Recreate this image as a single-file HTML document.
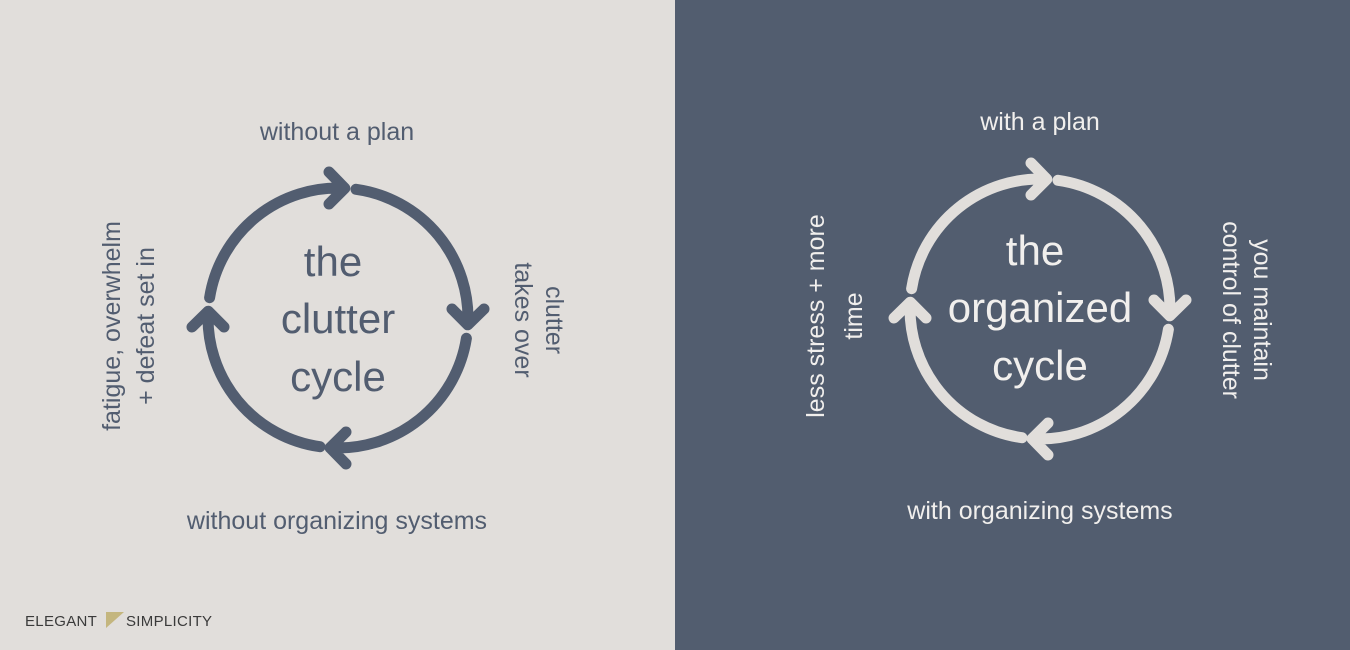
<!DOCTYPE html>
<html><head><meta charset="utf-8">
<style>
html,body{margin:0;padding:0;}
body{width:1350px;height:650px;overflow:hidden;position:relative;font-family:"Liberation Sans",sans-serif;}
</style></head>
<body>
<svg width="1350" height="650" viewBox="0 0 1350 650" xmlns="http://www.w3.org/2000/svg" style="position:absolute;left:0;top:0">
<rect x="0" y="0" width="675" height="650" fill="#e1dedb"/>
<rect x="675" y="0" width="675" height="650" fill="#525d6f"/>
<defs>
<g id="cyc" fill="none" stroke-width="11" stroke-linecap="round" stroke-linejoin="round">
<path d="M-128.4,-20.3 A130,130 0 0 1 6.8,-129.8 M-9,-146 L6.8,-129.8 L-9,-114"/>
<path d="M18,-128.7 A130,130 0 0 1 129.8,6.8 M114,-9 L129.8,6.8 L146,-9"/>
<path d="M128.4,20.3 A130,130 0 0 1 -7.9,129.8 M8,114 L-7.9,129.8 L8,146"/>
<path d="M-18,128.7 A130,130 0 0 1 -129.8,-6.8 M-146,9 L-129.8,-6.8 L-114,9"/>
</g>
</defs>
<use href="#cyc" transform="translate(338,318)" stroke="#525d70"/>
<use href="#cyc" transform="translate(1040,309)" stroke="#e1dedb"/>

<g fill="#525d70" font-size="25" text-anchor="middle">
<text x="337" y="140">without a plan</text>
<text x="337" y="529">without organizing systems</text>
<text transform="translate(546,320) rotate(90)" x="0" y="0">clutter</text>
<text transform="translate(515,320) rotate(90)" x="0" y="0">takes over</text>
<text transform="translate(120,326) rotate(-90)" x="0" y="0">fatigue, overwhelm</text>
<text transform="translate(154,326) rotate(-90)" x="0" y="0">+ defeat set in</text>
</g>
<g fill="#525d70" font-size="42" text-anchor="middle">
<text x="333" y="276">the</text>
<text x="338" y="333">clutter</text>
<text x="338" y="391">cycle</text>
</g>

<g fill="#f1efed" font-size="25" text-anchor="middle">
<text x="1040" y="130">with a plan</text>
<text x="1040" y="519">with organizing systems</text>
<text transform="translate(1254,310) rotate(90)" x="0" y="0">you maintain</text>
<text transform="translate(1223,310) rotate(90)" x="0" y="0">control of clutter</text>
<text transform="translate(824,316) rotate(-90)" x="0" y="0">less stress + more</text>
<text transform="translate(862,316) rotate(-90)" x="0" y="0">time</text>
</g>
<g fill="#f1efed" font-size="42" text-anchor="middle">
<text x="1035" y="265">the</text>
<text x="1040" y="322">organized</text>
<text x="1040" y="380">cycle</text>
</g>

<text x="25" y="626" font-size="15" fill="#3a3a3a" letter-spacing="0.3">ELEGANT</text>
<polygon points="106,612 124,612 106,628" fill="#c4b67e"/>
<text x="126" y="626" font-size="15" fill="#3a3a3a" letter-spacing="0.3">SIMPLICITY</text>
</svg>
</body></html>
